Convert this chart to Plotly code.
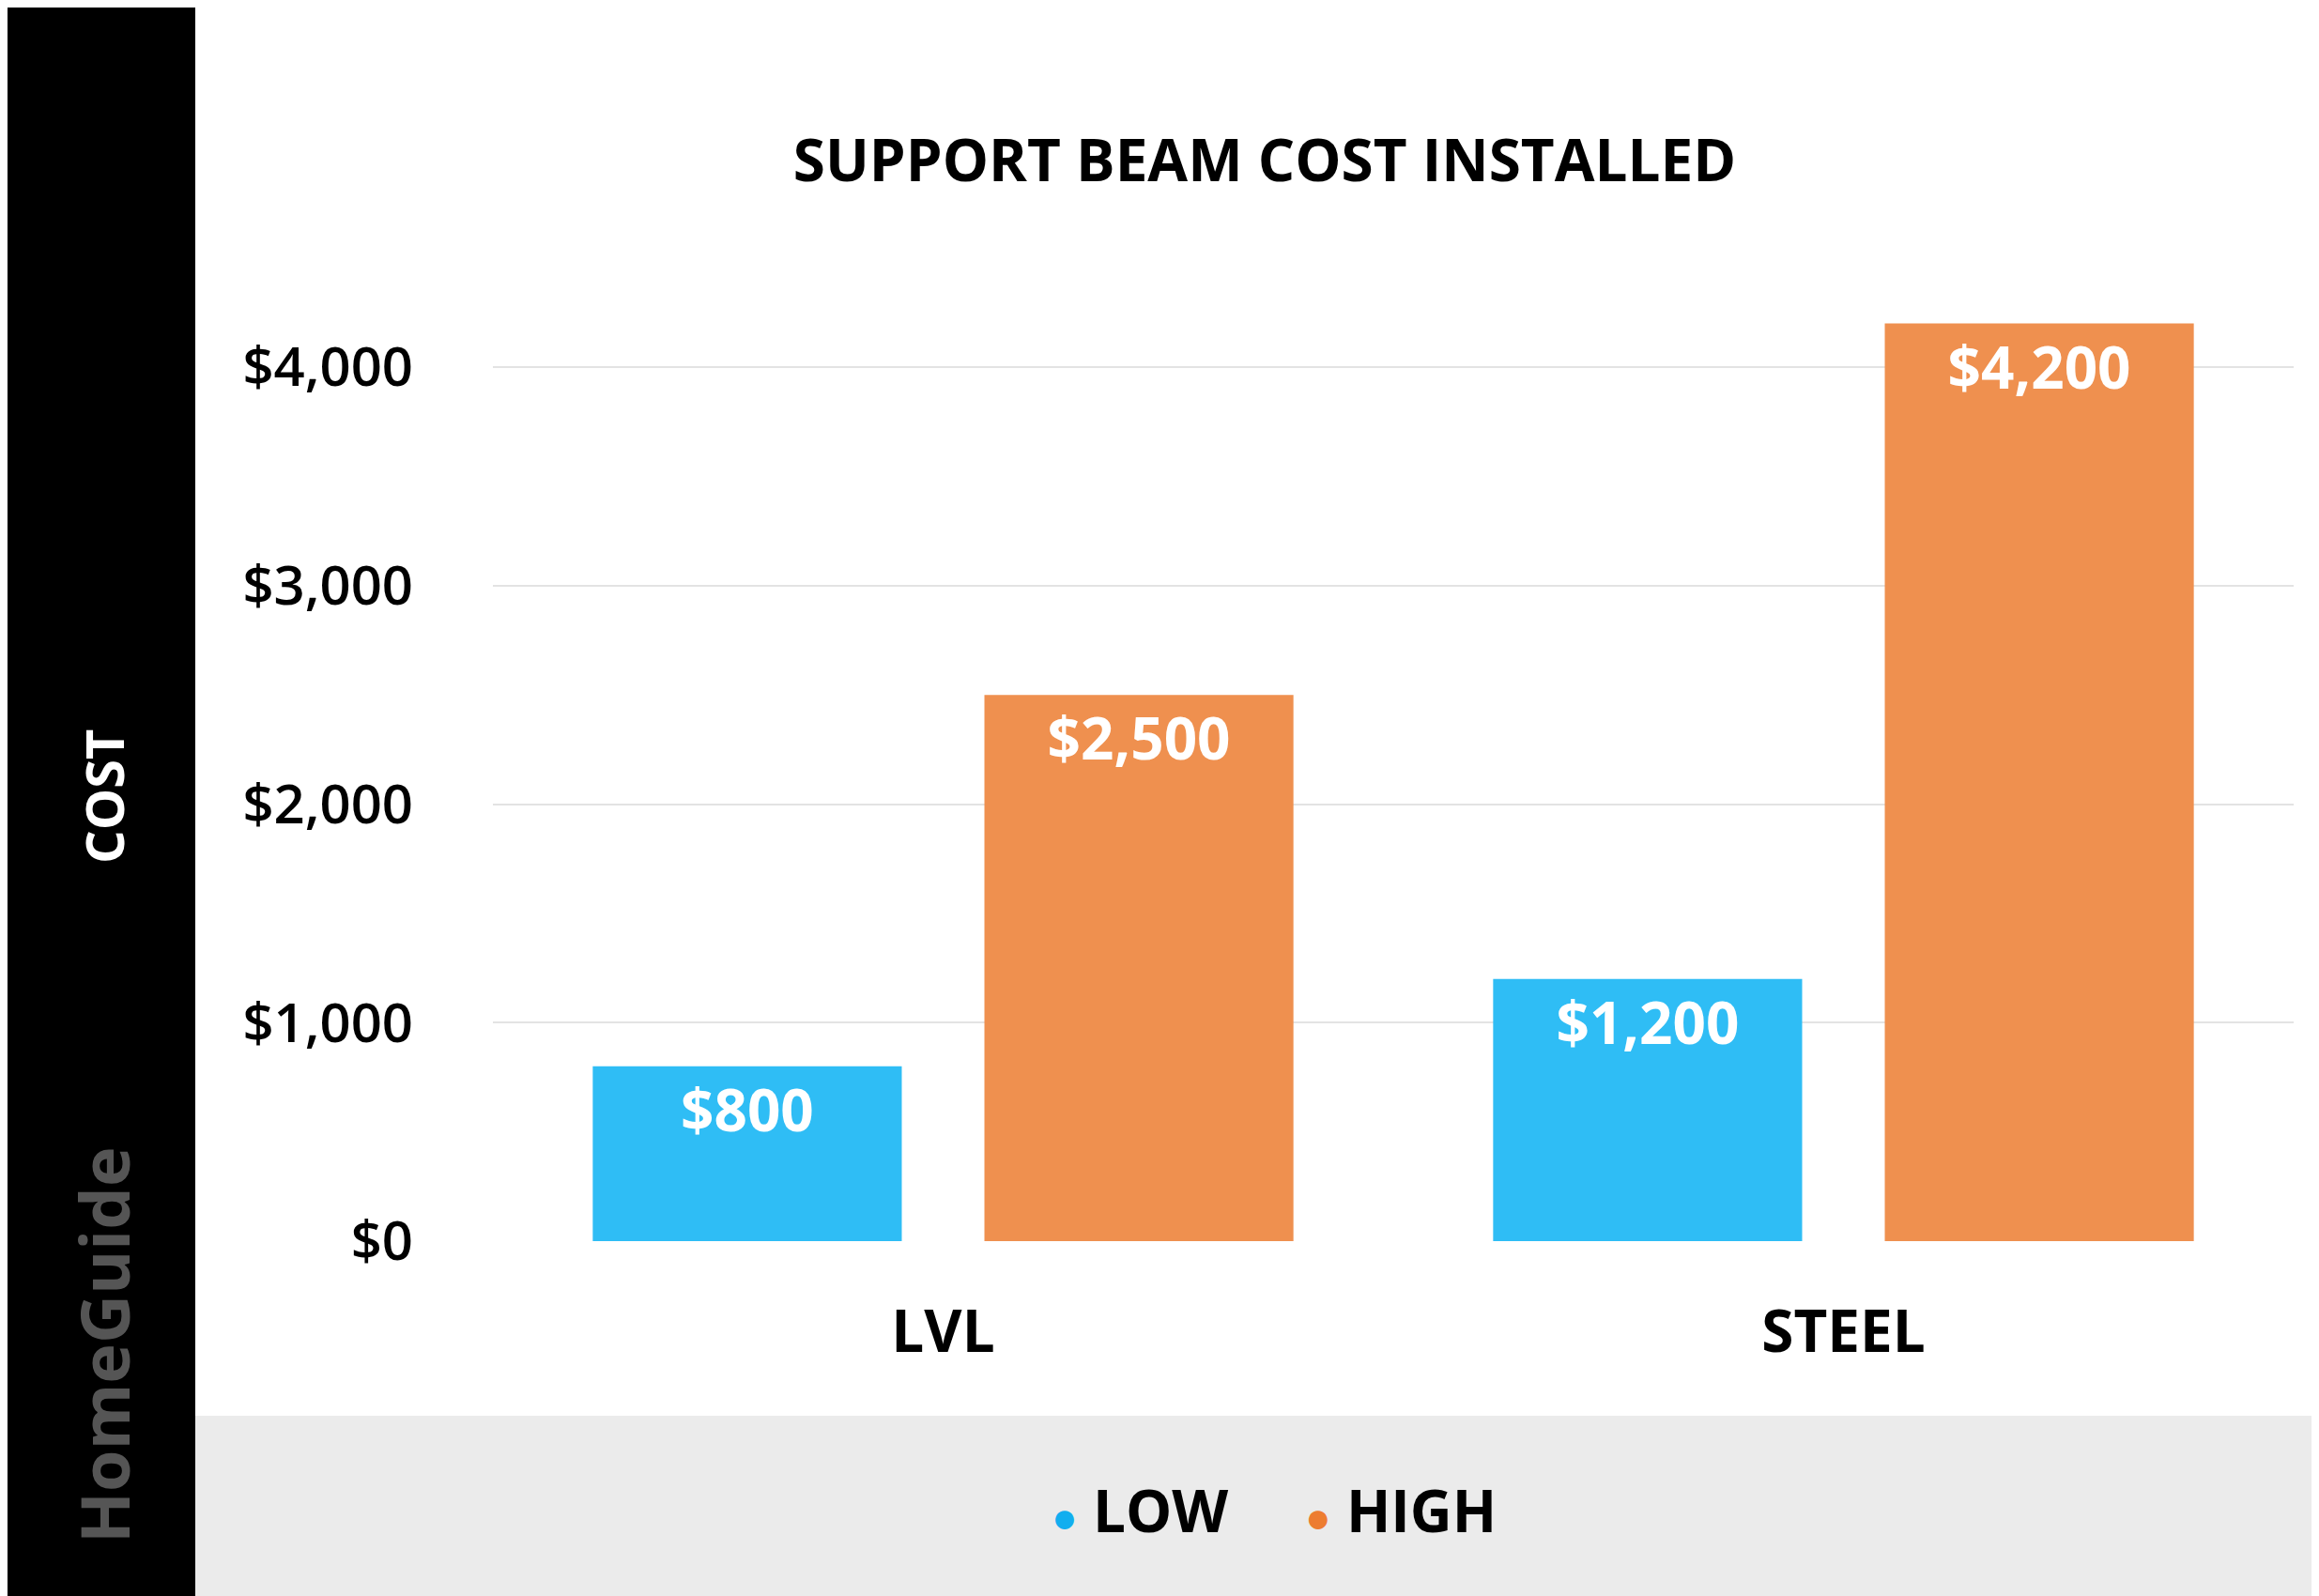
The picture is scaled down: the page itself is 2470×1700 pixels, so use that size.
import plotly.graph_objects as go

categories = ["LVL", "STEEL"]
low_values = [800, 1200]
high_values = [2500, 4200]
tick_values = [0, 1000, 2000, 3000, 4000]
tick_labels = ["$0", "$1,000", "$2,000", "$3,000", "$4,000"]
legend_names = ["LOW", "HIGH"]
legend_colors = ["#12aeef", "#ed7d31"]

W, H = 2470, 1700
L, R, T, B = 517, 35, 300, 386
pw = W - L - R
ph = H - T - B


def px_x(p):
    return (p - L) / pw


def px_y(p):
    return (H - B - p) / ph


font = "Open Sans"
fig = go.Figure()
fig.add_bar(x=categories, y=low_values, name="LOW", marker_color="#2fbdf5",
            text=[f"${v:,}" for v in low_values])
fig.add_bar(x=categories, y=high_values, name="HIGH", marker_color="#ef904f",
            text=[f"${v:,}" for v in high_values])
fig.update_traces(textposition="inside", insidetextanchor="end",
                  textfont=dict(family=font, size=62, color="white", weight="bold"),
                  marker_line_width=0, hoverinfo="skip")

ann = [
    dict(text="COST", xref="paper", yref="paper", x=px_x(102), y=px_y(840),
         xanchor="center", yanchor="middle", textangle=-90, showarrow=False,
         font=dict(family=font, size=56, color="white", weight="bold")),
    dict(text="HomeGuide", xref="paper", yref="paper", x=px_x(102), y=px_y(1425),
         xanchor="center", yanchor="middle", textangle=-90, showarrow=False,
         font=dict(family=font, size=72, color="#555555", weight="bold")),
]
legend_x = [1110, 1380]
for name, col, lx in zip(legend_names, legend_colors, legend_x):
    ann.append(dict(text=f"<span style='color:{col};font-size:46px'>●</span> {name}",
                    xref="paper", yref="paper", x=px_x(lx), y=px_y(1600),
                    xanchor="left", yanchor="middle", showarrow=False,
                    font=dict(family=font, size=62, color="black", weight="bold")))

fig.update_layout(
    width=W, height=H, margin=dict(l=L, r=R, t=T, b=B),
    paper_bgcolor="white", plot_bgcolor="white", showlegend=False,
    barmode="group", bargap=0.13, bargroupgap=0.211,
    title=dict(text="SUPPORT BEAM COST INSTALLED", x=px_x(1339), xref="paper",
               xanchor="center", y=1 - 163 / H, yanchor="middle",
               font=dict(family=font, size=62, color="black", weight="bold")),
    xaxis=dict(showgrid=False, showline=False, ticks="", ticklabelstandoff=55,
               tickfont=dict(family=font, size=62, color="black", weight="bold")),
    yaxis=dict(range=[0, 4357], tickvals=tick_values, ticktext=tick_labels,
               gridcolor="#e3e3e3", gridwidth=2, zeroline=False, ticklabelstandoff=84,
               tickfont=dict(family=font, size=58, color="black", weight=600)),
    shapes=[
        dict(type="rect", xref="paper", yref="paper", x0=px_x(0), x1=px_x(200),
             y0=px_y(H), y1=px_y(0), fillcolor="black", line_width=0, layer="below"),
        dict(type="rect", xref="paper", yref="paper", x0=px_x(200), x1=px_x(W),
             y0=px_y(H), y1=px_y(1500), fillcolor="#ebebeb", line_width=0, layer="below"),
    ],
    annotations=ann,
)

fig.write_html("out.html")
